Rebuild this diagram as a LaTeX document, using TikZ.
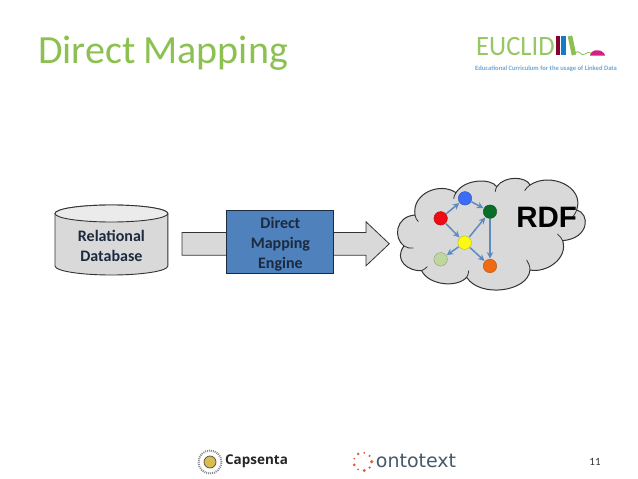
\documentclass[tikz,border=0pt]{standalone}
\usepackage{fontspec}
\setmainfont{Carlito}
\newfontfamily\arialfont{Liberation Sans}
\newfontfamily\opensansfont{Open Sans}
\newfontfamily\dejavufont{DejaVu Sans}
\usetikzlibrary{shapes.geometric,arrows.meta}
\definecolor{titlegreen}{HTML}{8CC152}
\definecolor{fillgray}{HTML}{D9D9D9}
\definecolor{enginefill}{HTML}{4F81BD}
\definecolor{enginetext}{HTML}{1B2A3E}
\definecolor{edgeblue}{HTML}{5E8BBF}
\definecolor{ontoslate}{HTML}{45596B}
\definecolor{ontored}{HTML}{E2583A}
\definecolor{subtitleblue}{HTML}{6CA6D6}
\definecolor{nodered}{HTML}{F00A14}
\definecolor{nodeblue}{HTML}{3B6CF5}
\definecolor{nodegreen}{HTML}{0A6E28}
\definecolor{nodeyellow}{HTML}{FAFA14}
\definecolor{nodepale}{HTML}{BFD6A0}
\definecolor{nodeorange}{HTML}{F06A14}
\tikzset{
  labeltext/.style={font=\fontsize{16}{20}\selectfont\bfseries,text=#1,align=center,inner sep=0pt},
  graphnode/.style={circle,fill=#1,draw=#1!75!black,line width=0.4pt,minimum size=13.5pt,inner sep=0pt},
  graphedge/.style={draw=edgeblue,line width=1.5pt,-{Stealth[length=6.5pt,width=6.5pt]},shorten >=0.5pt,shorten <=0.5pt},
  outlined/.style={draw=black!80,line width=0.9pt},
  book/.style={line width=4.6pt,line cap=butt}
}
\begin{document}
\begin{tikzpicture}[x=1pt,y=-1pt]
\useasboundingbox (0,0) rectangle (638,479);
% title
\node[anchor=base west,inner sep=0pt,text=titlegreen,font=\fontsize{40}{44}\selectfont] (title) at (38,63) {Direct\hspace{8pt}Mapping};
% flow arrow
\draw[outlined,fill=fillgray,line width=0.8pt] (182,232.4) -- (366,232.4) -- (366,221.8) -- (389.3,243.8)
  -- (366,265.8) -- (366,255.2) -- (182,255.2) -- cycle;
% database
\draw[outlined,fill=fillgray] (55,213.5) -- (55,266) arc[start angle=180,end angle=360,x radius=56.4pt,y radius=9pt]
   -- (167.8,213.5) arc[start angle=0,end angle=180,x radius=56.4pt,y radius=8.5pt] -- cycle;
\draw[outlined,fill=black!8] (111.4,213.5) ellipse[x radius=56.4pt,y radius=8.5pt];
\node[labeltext=enginetext] (db) at (111.4,245.8) {Relational\\Database};
% engine
\node[draw=enginetext,line width=0.9pt,fill=enginefill,minimum width=107pt,minimum height=63pt,
  labeltext=enginetext] (engine) at (280.4,242.2) {\rule{0pt}{15pt}Direct\\Mapping\\Engine};
% cloud
\begin{scope}[xshift=380pt,yshift=-170pt,x=0.3333pt,y=-0.3333pt]
\draw[outlined,fill=fillgray,line width=1pt] (72,228)
  .. controls (40,205) and (45,140) .. (105,135)
  .. controls (95,70) and (180,35) .. (228,68)
  .. controls (255,25) and (335,25) .. (350,50)
  .. controls (375,15) and (440,20) .. (450,45)
  .. controls (510,5) and (615,50) .. (590,120)
  .. controls (630,130) and (630,205) .. (548,212)
  .. controls (565,265) and (500,310) .. (450,300)
  .. controls (445,365) and (300,385) .. (260,322)
  .. controls (230,355) and (145,345) .. (125,302)
  .. controls (85,305) and (40,270) .. (72,228) -- cycle;
\draw[outlined,line width=0.8pt] (72,228) .. controls (80,234) and (90,235) .. (100,234)
  (105,135) .. controls (106,143) and (110,150) .. (115,155)
  (228,68) .. controls (224,74) and (222,80) .. (221,86)
  (350,50) .. controls (348,55) and (346,60) .. (346,65)
  (450,45) .. controls (443,50) and (438,55) .. (434,62)
  (590,120) .. controls (587,130) and (580,140) .. (572,146)
  (548,212) .. controls (545,205) and (540,198) .. (532,192)
  (450,300) .. controls (450,288) and (445,278) .. (440,270)
  (260,322) .. controls (265,314) and (266,308) .. (266,302)
  (125,302) .. controls (130,300) and (137,295) .. (142,290);
\node[graphnode=nodered] (r) at (182,145) {};
\node[graphnode=nodeblue] (b) at (255,85) {};
\node[graphnode=nodegreen] (g) at (330,125) {};
\node[graphnode=nodeyellow] (y) at (254,218) {};
\node[graphnode=nodepale] (p) at (182,268) {};
\node[graphnode=nodeorange] (o) at (330,288) {};
\draw[graphedge] (r) -- (b);
\draw[graphedge] (b) -- (g);
\draw[graphedge] (r) -- (y);
\draw[graphedge] (y) -- (g);
\draw[graphedge] (g) -- (o);
\draw[graphedge] (y) -- (p);
\draw[graphedge] (y) -- (o);
\node[inner sep=0pt,font=\arialfont\bfseries\fontsize{29.5}{32}\selectfont] (rdf) at (500,142) {RDF};
\end{scope}
% EUCLID logo
\node[anchor=base west,inner sep=0pt,text=titlegreen!90!white,xscale=0.95,font=\fontsize{28}{30}\selectfont] (euclid) at (476,56) {EUCLID};
\draw[book,draw=purple!70!black] (558,36) -- (558,55);
\draw[book,draw=cyan!60!blue] (563.5,36) -- (563.5,55);
\draw[book,draw=titlegreen] (570,36) -- (574,55);
\draw[titlegreen,line width=0.8pt] (575,54) .. controls (579,47) and (581,58) .. (585,54) .. controls (587,52) and (589,52) .. (591,53);
\fill[magenta!85!black] (590,55.5) .. controls (591,48) and (604,49) .. (605,55.5) -- cycle;
\node[anchor=west,inner sep=0pt,text=subtitleblue,font=\fontsize{6.6}{8}\selectfont\bfseries] (euclidsub) at (475,69) {Educational Curriculum for the usage of Linked Data};
% Capsenta logo
\draw[black!45,line width=2pt,dash pattern=on 1pt off 1pt] (210,462) circle[radius=11.5pt];
\fill[yellow!65!orange!80!black!80] (210,462) circle[radius=6pt];
\draw[black!70,line width=0.7pt] (210,462) circle[radius=6pt];
\node[inner sep=0pt,font=\opensansfont\bfseries\fontsize{13.5}{15}\selectfont,text=black!85] (capsenta) at (256.5,461.5) {Capsenta};
% ontotext logo
\foreach \a/\s in {0/1.8,40/1.2,80/1,120/1.4,160/1.1,200/1.5,240/1,280/1.6,320/1.2}
  \fill[ontored] (362.7,461.7) ++(\a:9pt) circle[radius=\s pt];
\node[inner sep=0pt,font=\dejavufont\fontsize{19}{22}\selectfont,text=ontoslate] (ontotext) at (416,460.5) {ontotext};
% page number
\node[inner sep=0pt,font=\fontsize{11}{13}\selectfont,text=black!80] (page) at (595,462) {11};
\end{tikzpicture}
\end{document}
